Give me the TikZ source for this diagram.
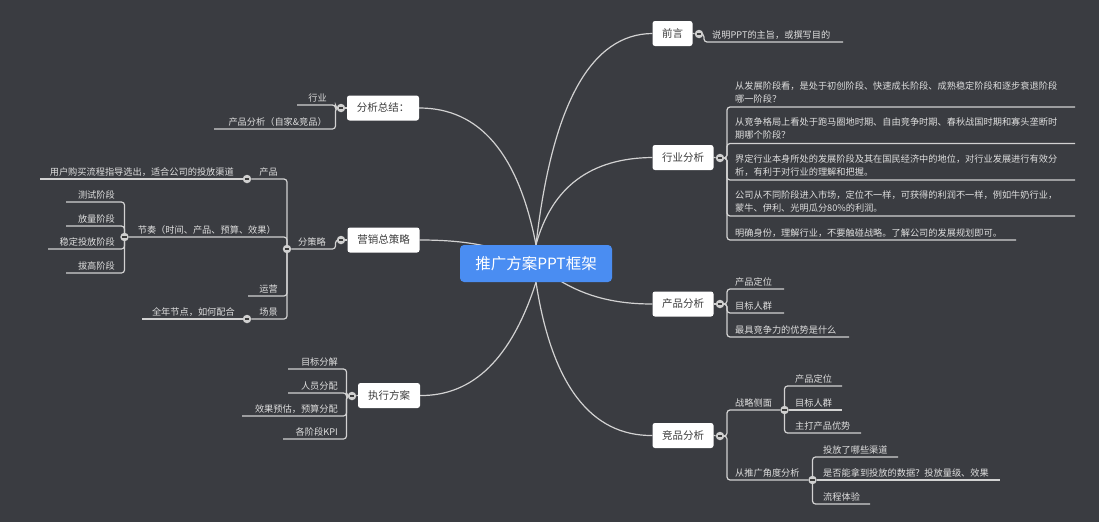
\documentclass[tikz,border=0pt]{standalone}
\usepackage{fontspec}
\setmainfont{Noto Sans CJK SC}
\pgfdeclarelayer{back}
\pgfdeclarelayer{bg}
\pgfsetlayers{back,bg,main}
\definecolor{bgc}{HTML}{3A3C41}
\definecolor{linec}{HTML}{D2D2D2}
\definecolor{txt}{HTML}{DEDEDE}
\definecolor{boxtxt}{HTML}{3C3C3C}
\definecolor{rootc}{HTML}{4A8DF2}
\definecolor{collc}{HTML}{D0D0D0}
\tikzset{
  conn/.style={draw=linec, line width=1.2pt},
  br/.style={conn, rounded corners=3pt},
  mainbox/.style={fill=white, rounded corners=2.5pt, text=boxtxt, font=\fontsize{10.5}{12}\selectfont, inner sep=0pt, minimum height=25pt},
  rootbox/.style={fill=rootc, rounded corners=4pt, text=white, font=\fontsize{15.5}{18}\selectfont, minimum width=152pt, minimum height=37pt, inner sep=0pt},
  leafr/.style={text=txt, font=\fontsize{9.2}{13}\selectfont, anchor=base west, inner sep=0pt},
  leafl/.style={text=txt, font=\fontsize{9.2}{13}\selectfont, anchor=base east, inner sep=0pt},
  coll/.style={circle, fill=collc, minimum size=8.5pt, inner sep=0pt,
    path picture={\draw[boxtxt, line width=1.1pt] ([xshift=-2.2pt]path picture bounding box.center) -- ([xshift=2.2pt]path picture bounding box.center);}},
}
\begin{document}
\begin{tikzpicture}[x=1pt,y=-1pt]
\begin{pgfonlayer}{back}
\fill[bgc] (0,0) rectangle (1099,522);
\end{pgfonlayer}
\useasboundingbox (0,0) rectangle (1099,522);

% main nodes
\node[rootbox] (root) at (536,263.5) {推广方案PPT框架};
\node[mainbox, minimum width=40pt] (qy) at (672.5,33.5) {前言};
\node[mainbox, minimum width=61pt] (hy) at (683,157.5) {行业分析};
\node[mainbox, minimum width=61pt] (cp) at (683,304) {产品分析};
\node[mainbox, minimum width=61pt] (jp) at (683,435.5) {竞品分析};
\node[mainbox, minimum width=72pt] (fx) at (383,108) {分析总结：};
\node[mainbox, minimum width=72pt] (yx) at (383.5,240) {营销总策略};
\node[mainbox, minimum width=62pt] (zx) at (389,395.5) {执行方案};

% collapse circles
\node[coll] (cq) at (699,34) {};
\node[coll] (ch) at (720,158) {};
\node[coll] (cc) at (720,304) {};
\node[coll] (cj) at (720,436) {};
\node[coll] (cj1) at (784.5,410) {};
\node[coll] (cj2) at (812.5,480) {};
\node[coll] (cf) at (341,108) {};
\node[coll] (cy) at (341,240) {};
\node[coll] (cfc) at (287,249) {};
\node[coll] (cpp) at (247,179) {};
\node[coll] (cjz) at (124.5,237) {};
\node[coll] (ccj) at (247,319) {};
\node[coll] (cz) at (352,396) {};

% right leaves
\node[leafr] (t0) at (712,38) {说明PPT的主旨，或撰写目的};
\coordinate (u0) at (843,42);
\node[leafr] (t1a) at (735,89) {从发展阶段看，是处于初创阶段、快速成长阶段、成熟稳定阶段和逐步衰退阶段};
\node[leafr] (t1b) at (735,102) {哪一阶段？};
\coordinate (u1) at (1075,107);
\node[leafr] (t2a) at (735,125.5) {从竞争格局上看处于跑马圈地时期、自由竞争时期、春秋战国时期和寡头垄断时};
\node[leafr] (t2b) at (735,138.5) {期哪个阶段？};
\coordinate (u2) at (1075,143.5);
\node[leafr] (t3a) at (735,162) {界定行业本身所处的发展阶段及其在国民经济中的地位，对行业发展进行有效分};
\node[leafr] (t3b) at (735,175) {析，有利于对行业的理解和把握。};
\coordinate (u3) at (1075,180);
\node[leafr] (t4a) at (735,198) {公司从不同阶段进入市场，定位不一样，可获得的利润不一样，例如牛奶行业，};
\node[leafr] (t4b) at (735,211) {蒙牛、伊利、光明瓜分80\%的利润。};
\coordinate (u4) at (1075,216);
\node[leafr] (t5) at (735,236) {明确身份，理解行业，不要触碰战略。了解公司的发展规划即可。};
\coordinate (u5) at (1016,240);

\node[leafr] (t6) at (735,285) {产品定位};
\coordinate (u6) at (784,289);
\node[leafr] (t7) at (735,309) {目标人群};
\coordinate (u7) at (784,313);
\node[leafr] (t8) at (735,333) {最具竞争力的优势是什么};
\coordinate (u8) at (849,337);

\node[leafr] (t9) at (735,406) {战略侧面};
\node[leafr] (t10) at (735,476) {从推广角度分析};
\node[leafr] (t11) at (795,382) {产品定位};
\coordinate (u11) at (842,386);
\node[leafr] (t12) at (795,406) {目标人群};
\coordinate (u12) at (842,410);
\node[leafr] (t13) at (795,429) {主打产品优势};
\coordinate (u13) at (861,433);
\node[leafr] (t14) at (823,453) {投放了哪些渠道};
\coordinate (u14) at (898,457);
\node[leafr] (t15) at (823,476) {是否能拿到投放的数据？投放量级、效果};
\coordinate (u15) at (1000,480);
\node[leafr] (t16) at (823,500) {流程体验};
\coordinate (u16) at (870,504);

% left leaves
\node[leafl] (t17) at (327,101) {行业};
\coordinate (u17) at (297,105);
\node[leafl] (t18) at (327,125) {产品分析（自家\&竞品）};
\coordinate (u18) at (214,129);

\node[leafl] (t19) at (326,245) {分策略};
\node[leafl] (t20) at (278,175) {产品};
\node[leafl] (t21) at (234,175) {用户购买流程指导选出，适合公司的投放渠道};
\coordinate (u21) at (40,179);
\node[leafl] (t22) at (276,233) {节奏（时间、产品、预算、效果）};
\node[leafl] (t23) at (115,198) {测试阶段};
\coordinate (u23) at (66,202);
\node[leafl] (t24) at (115,222) {放量阶段};
\coordinate (u24) at (66,226);
\node[leafl] (t25) at (115,245) {稳定投放阶段};
\coordinate (u25) at (48,249);
\node[leafl] (t26) at (115,269) {拔高阶段};
\coordinate (u26) at (66,273);
\node[leafl] (t27) at (278,292) {运营};
\coordinate (u27) at (248,296);
\node[leafl] (t28) at (278,315) {场景};
\node[leafl] (t29) at (235,315) {全年节点，如何配合};
\coordinate (u29) at (142,319);

\node[leafl] (t30) at (338,365) {目标分解};
\coordinate (u30) at (288,369);
\node[leafl] (t31) at (338,389) {人员分配};
\coordinate (u31) at (288,393);
\node[leafl] (t32) at (338,412) {效果预估，预算分配};
\coordinate (u32) at (242,416);
\node[leafl] (t33) at (338,435) {各阶段KPI};
\coordinate (u33) at (283,439);

\begin{pgfonlayer}{bg}
% root connectors
\draw[conn] (root.north) .. controls (552,104) and (591,34) .. (qy.west);
\draw[conn] (root.north) .. controls (551.7,187) and (590.7,158) .. (hy.west);
\draw[conn] (fx.east) .. controls (479.7,108) and (518.3,153.7) .. (root.north);
\draw[conn] (yx.east) .. controls (470,240) and (500,247) .. (root.center);
\draw[conn] (cp.west) .. controls (605,304) and (570,292) .. (root.center);
\draw[conn] (root.south) .. controls (551.7,384.7) and (590.7,436) .. (jp.west);
\draw[conn] (zx.east) .. controls (473.3,396) and (511.7,358) .. (root.south);
% box to circle
\draw[conn] (qy.east) -- (cq);
\draw[conn] (hy.east) -- (ch);
\draw[conn] (cp.east) -- (cc);
\draw[conn] (jp.east) -- (cj);
\draw[conn] (fx.west) -- (cf);
\draw[conn] (yx.west) -- (cy);
\draw[conn] (zx.west) -- (cz);
% right branches
\draw[br] (cq.center) -- (704,34) |- (u0);
\foreach \u in {u1,u2,u3,u4,u5} \draw[br] (ch.center) -- (727,158) |- (\u);
\foreach \u in {u6,u7,u8} \draw[br] (cc.center) -- (727,304) |- (\u);
\draw[br] (cj.center) -- (727,436) |- (cj1);
\draw[br] (cj.center) -- (727,436) |- (cj2);
\draw[br] (cj1.center) |- (u11);
\draw[conn] (cj1) -- (u12);
\draw[br] (cj1.center) |- (u13);
\draw[br] (cj2.center) |- (u14);
\draw[conn] (cj2) -- (u15);
\draw[br] (cj2.center) |- (u16);
% left branches
\foreach \u in {u17,u18} \draw[br] (cf.center) -- (335.5,108) |- (\u);
\draw[br] (cy.center) -- (335.5,240) |- (cfc);
\draw[br] (cfc.center) |- (cpp);
\draw[conn] (cpp) -- (u21);
\draw[br] (cfc.center) |- (cjz);
\foreach \u in {u23,u24,u25,u26} \draw[br] (cjz.center) |- (\u);
\draw[br] (cfc.center) |- (u27);
\draw[br] (cfc.center) |- (ccj);
\draw[conn] (ccj) -- (u29);
\foreach \u in {u30,u31,u32,u33} \draw[br] (cz.center) -- (346.5,396) |- (\u);
\end{pgfonlayer}
\end{tikzpicture}
\end{document}
